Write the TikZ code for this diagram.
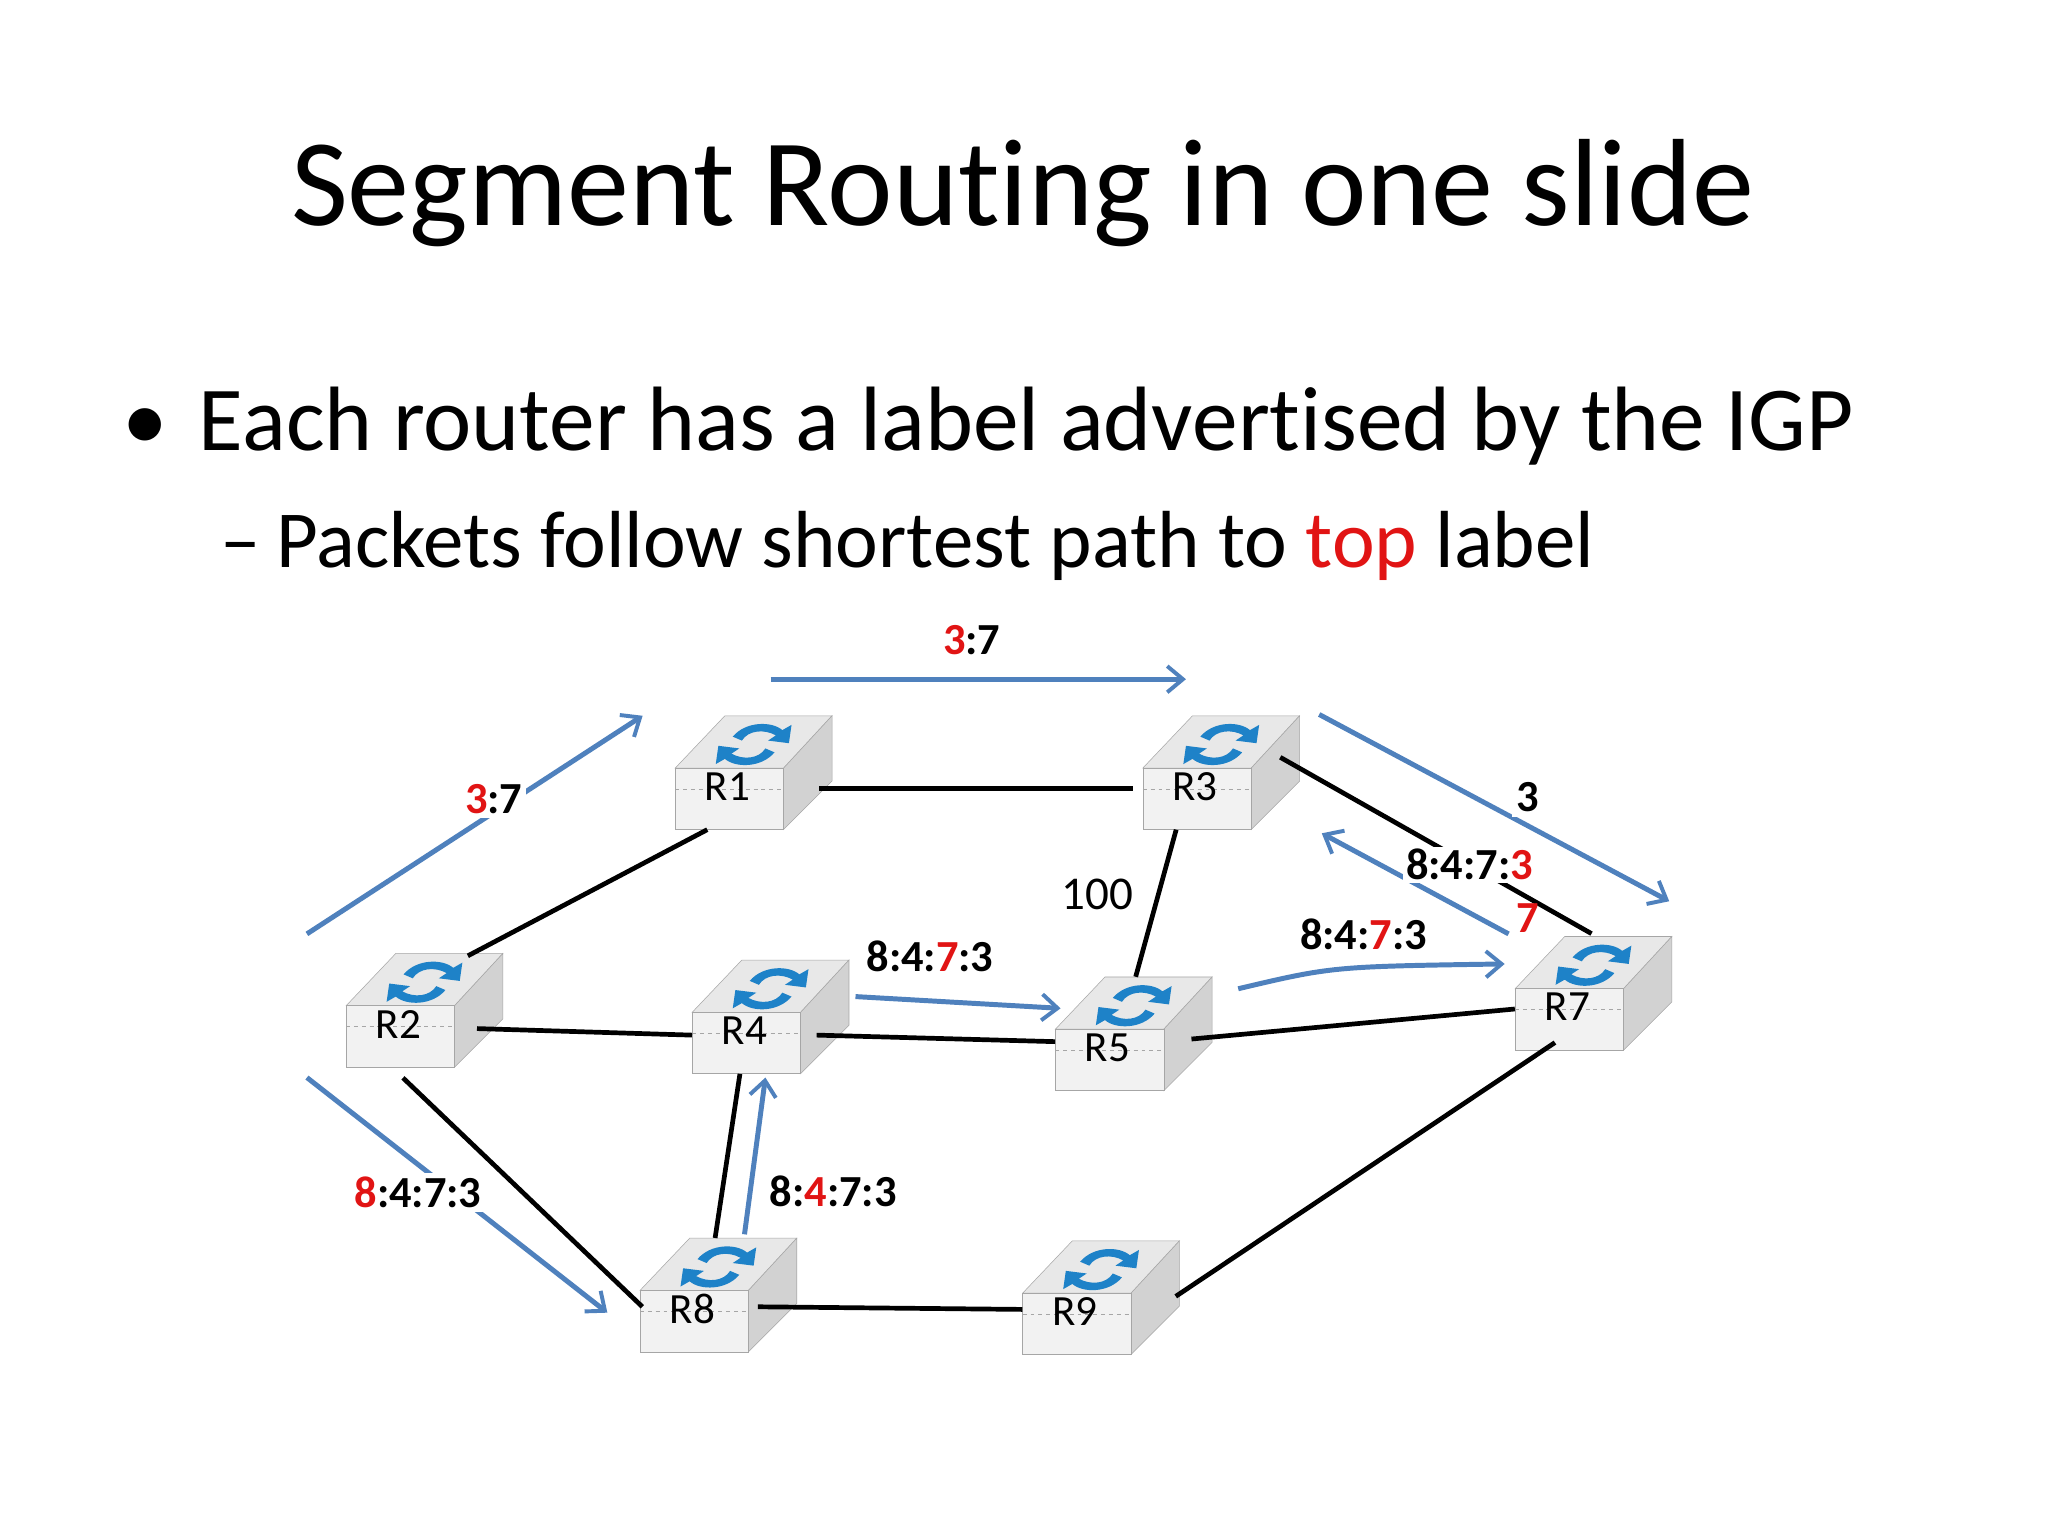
\documentclass[tikz,border=0pt]{standalone}
\usepackage{fontspec}
\setmainfont[Ligatures=NoCommon]{Carlito}
\usetikzlibrary{arrows.meta}
\definecolor{ablue}{RGB}{79,129,189}
\definecolor{ired}{RGB}{225,20,20}
\definecolor{iconblue}{RGB}{30,130,200}
\newcommand\rd[1]{\textcolor{ired}{#1}}
\newcommand\myrouter[4]{%
\begin{scope}[shift={(#2,#3)}]
\fill[gray!18,draw=gray!70] (0,0)--(38,-40)--(120,-40)--(83,0)--cycle;
\fill[gray!35,draw=gray!70] (83,0)--(120,-40)--(120,10)--(83,47)--cycle;
\fill[gray!10,draw=gray!70] (0,0) rectangle (83,47);
\draw[gray!70,dashed] (0,16)--(83,16);
\fill[iconblue] (44,-24) .. controls (54,-36) and (74,-36) .. (82,-29) -- (89,-33) -- (87,-19) -- (71,-21) -- (77,-25) .. controls (68,-30) and (56,-29) .. (51,-21) -- cycle;
\fill[iconblue] (76,-12) .. controls (66,0) and (46,0) .. (38,-7) -- (31,-3) -- (33,-17) -- (49,-15) -- (43,-11) .. controls (52,-6) and (64,-7) .. (69,-15) -- cycle;
\node[rect] (#1) at (41.5,23.5) {};
\node[font=\fontsize{33}{33}\selectfont] at (40,14) {#4};
\end{scope}}
\tikzset{
 rect/.style={minimum width=83pt,minimum height=47pt,inner sep=0pt},
 link/.style={line width=3.6pt,black},
 sr/.style={line width=3.8pt,ablue,-{Straight Barb[length=12pt,width=20pt,line width=3pt]}},
 lab/.style={font=\bfseries\fontsize{34}{34}\selectfont,fill=white,inner sep=3pt}
}
\begin{document}
\begin{tikzpicture}[x=1pt,y=-1pt]
\useasboundingbox (0,0) rectangle (1568,1176);
\fill[white] (0,0) rectangle (1568,1176);
\node[font=\fontsize{95}{95}\selectfont] at (783,148) {Segment Routing in one slide};
\node[anchor=west,font=\fontsize{70}{70}\selectfont] at (90,326) {•\hspace{24pt}Each router has a label advertised by the IGP};
\node[anchor=west,font=\fontsize{62}{62}\selectfont] at (165,418) {–\hspace{12pt}Packets follow shortest path to \rd{top} label};
\myrouter{R1}{517}{588}{R1}
\myrouter{R3}{875}{588}{R3}
\myrouter{R2}{265}{770}{R2}
\myrouter{R4}{530}{775}{R4}
\myrouter{R5}{808}{788}{R5}
\myrouter{R7}{1160}{757}{R7}
\myrouter{R8}{490}{988}{R8}
\myrouter{R9}{783}{990}{R9}
\draw[link] ([shift={(27,-8)}]R1.east) -- ([shift={(-7,-8)}]R3.west);
\draw[link] ([shift={(-17,0)}]R1.south) -- ([shift={(10,-38)}]R2.north east);
\draw[link] ([shift={(22,-8)}]R3.north east) -- ([shift={(17,-42)}]R7.north);
\draw[link] ([shift={(-16,0)}]R3.south) -- ([shift={(20,-40)}]R5.north);
\draw[link] ([shift={(17,-6)}]R2.east) -- ([shift={(0,-6)}]R4.west);
\draw[link] ([shift={(12,-6)}]R4.east) -- ([shift={(0,-14)}]R5.west);
\draw[link] ([shift={(21,-16)}]R5.east) -- ([shift={(0,-8)}]R7.west);
\draw[link] ([shift={(2,8)}]R2.south) -- ([shift={(2,-11)}]R8.west);
\draw[link] ([shift={(-5,0)}]R4.south) -- ([shift={(16,-40)}]R8.north);
\draw[link] ([shift={(7,-11)}]R8.east) -- ([shift={(0,-11)}]R9.west);
\draw[link] ([shift={(34,-21)}]R9.east) -- ([shift={(-11,-6)}]R7.south);
\node[font=\fontsize{36}{36}\selectfont] (c100) at (840,685) {100};
% segment routing arrows
\coordinate (a1s) at (235,715); \coordinate (a1e) at (492,548);
\draw[sr] (a1s) -- (a1e);
\node[lab] at (378,612) {\rd{3}:7};
\coordinate (a2s) at (590,520); \coordinate (a2e) at (908,520);
\draw[sr] (a2s) -- (a2e);
\node[lab] at (744,490) {\rd{3}:7};
\coordinate (a3s) at (1010,547); \coordinate (a3e) at (1278,690);
\draw[sr] (a3s) -- (a3e);
\node[lab,inner sep=4pt] at (1170,610) {3};
\coordinate (a4s) at (1155,715); \coordinate (a4e) at (1012,638);
\draw[sr] (a4s) -- (a4e);
\node[lab,inner sep=2pt] at (1125,662) {8:4:7:\rd{3}};
\node[lab,fill=none] at (1170,703) {\rd{7}};
\coordinate (a5s) at (948,757); \coordinate (a5e) at (1152,738);
\draw[sr] (a5s) .. controls (1020,740) .. (a5e);
\node[lab,fill=none] at (1044,715) {8:4:\rd{7}:3};
\coordinate (a6s) at (655,763); \coordinate (a6e) at (812,772);
\draw[sr] (a6s) -- (a6e);
\node[lab,fill=none] at (712,732) {8:4:\rd{7}:3};
\coordinate (a7s) at (570,945); \coordinate (a7e) at (586,825);
\draw[sr] (a7s) -- (a7e);
\node[lab] at (638,912) {8:\rd{4}:7:3};
\coordinate (a8s) at (235,825); \coordinate (a8e) at (465,1005);
\draw[sr] (a8s) -- (a8e);
\node[lab] at (320,913) {\rd{8}:4:7:3};
\end{tikzpicture}
\end{document}
